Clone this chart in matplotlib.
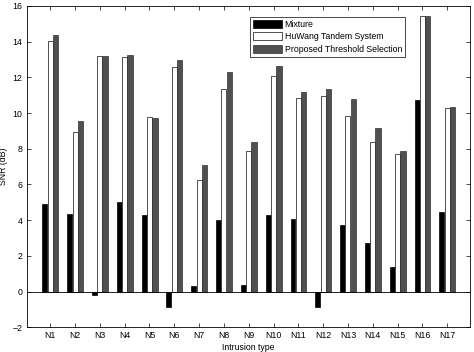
import numpy as np
import matplotlib.pyplot as plt

plt.rcParams['font.family'] = ['Liberation Sans', 'DejaVu Sans']

labels = ['N%d' % i for i in range(1, 18)]
mixture = [4.9, 4.35, -0.2, 5.0, 4.28, -0.85, 0.32, 4.0, 0.35, 4.28, 4.05, -0.85, 3.72, 2.7, 1.38, 10.75, 4.45]
huwang = [14.02, 8.95, 13.2, 13.12, 9.76, 12.58, 6.25, 11.35, 7.9, 12.1, 10.85, 10.95, 9.82, 8.37, 7.7, 15.42, 10.28]
proposed = [14.4, 9.55, 13.2, 13.28, 9.72, 12.98, 7.08, 12.3, 8.4, 12.65, 11.2, 11.35, 10.8, 9.17, 7.87, 15.42, 10.34]

fig = plt.figure(figsize=(4.74, 3.52), dpi=100)
ax = fig.add_axes([0.0563, 0.0702, 0.9353, 0.9128])

x = np.arange(1, 18)
w = 0.2
ax.bar(x - 0.215, mixture, w, color='black', edgecolor='black', linewidth=0.5, label='Mixture')
ax.bar(x, huwang, w, color='white', edgecolor='#333333', linewidth=0.6, label='HuWang Tandem System')
ax.bar(x + 0.215, proposed, w + 0.02, color='#505050', edgecolor='#303030', linewidth=0.5,
       label='Proposed Threshold Selection')
ax.axhline(0, color='black', linewidth=0.6)

ax.set_xlim(0.05, 17.92)
ax.set_ylim(-2, 16)
ax.set_xticks(x)
ax.set_xticklabels(labels)
ax.set_yticks(range(-2, 17, 2))
ax.tick_params(direction='in', top=True, right=True, length=3, width=0.5, labelsize=6.3, pad=3)
for s in ax.spines.values():
    s.set_linewidth(0.6)

ax.set_xlabel('Intrusion type', fontsize=6.3, labelpad=2)
ax.set_ylabel('SNR (dB)', fontsize=6.3, labelpad=3)

leg = ax.legend(loc='upper left', bbox_to_anchor=(0.504, 0.967), borderaxespad=0,
                fontsize=6.3, handlelength=3.3, handleheight=1.0, handletextpad=0.3,
                labelspacing=0.4, borderpad=0.35, fancybox=False, framealpha=1)
leg.get_frame().set_edgecolor('black')
leg.get_frame().set_linewidth(0.5)

plt.savefig('out.png', dpi=100)
